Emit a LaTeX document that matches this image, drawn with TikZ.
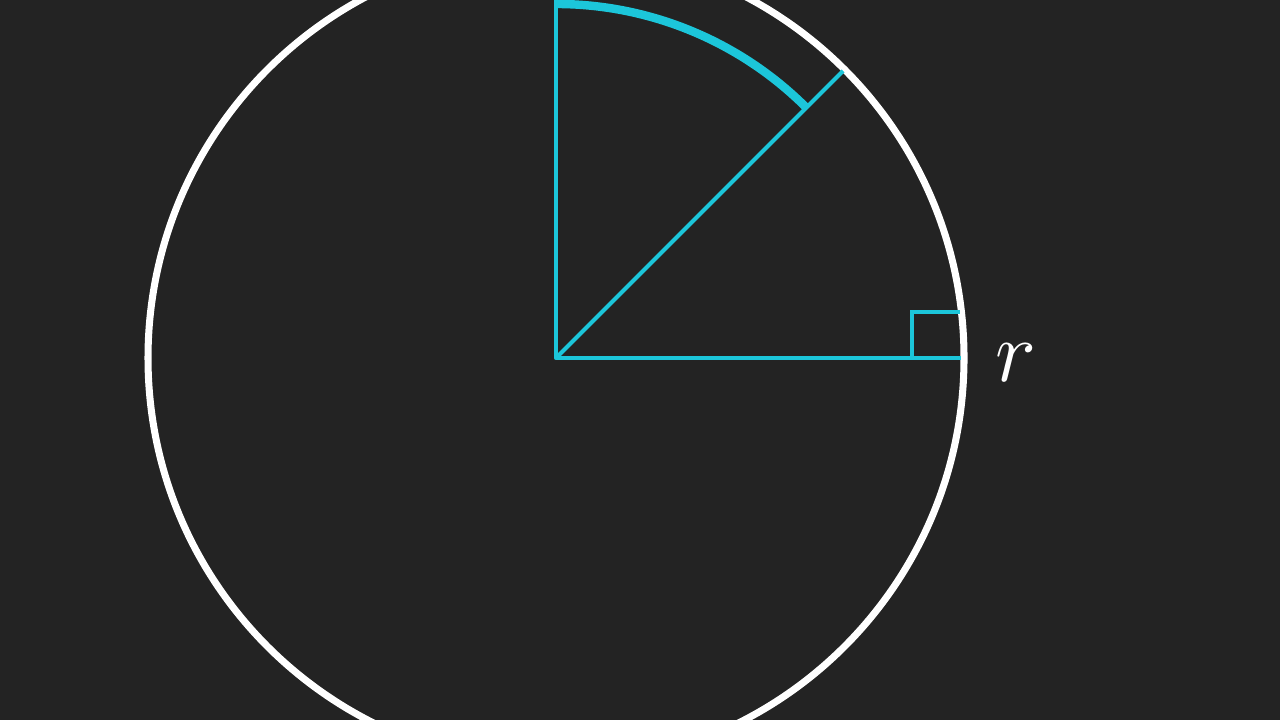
\documentclass[tikz,border=0pt]{standalone}
\usetikzlibrary{positioning, calc}
\definecolor{boardgrey}{RGB}{35, 35, 35}
\definecolor{sectorcyan}{RGB}{28, 198, 218}

\begin{document}
\begin{tikzpicture}
                    \useasboundingbox (0,0) rectangle (12.8,7.2);
                    \fill[boardgrey] (0,0) rectangle (12.8,7.2);
                    \clip (0,0) rectangle (12.8,7.2);
                    \coordinate (O) at (5.56,3.62);
                    \coordinate (east) at ($(O)+(4.05,0)$);
                    \coordinate (rim) at ($(O)+(45:4.06)$);
                    \coordinate (top) at ($(O)+(0,3.58)$);
                    \draw[white, line width=2pt] (O) circle (4.08);
                    \draw[sectorcyan, line width=1.2pt, line join=round] (top) -- (O) -- (east);
                    \draw[sectorcyan, line width=1.2pt] (O) -- (rim);
                    \draw[sectorcyan, line width=1.2pt] ($(O)+(3.56,0)$) -- ++(0,0.46) -- ++(0.48,0);
                    \draw[sectorcyan, line width=2.4pt] ($(O)+(90:3.54)$) arc (90:45:3.54);
                    \node[white, right=0.22 of east, yshift=-0.05cm, font=\fontsize{27}{32}\selectfont] (rlabel) {$r$};
                \end{tikzpicture}
\end{document}
